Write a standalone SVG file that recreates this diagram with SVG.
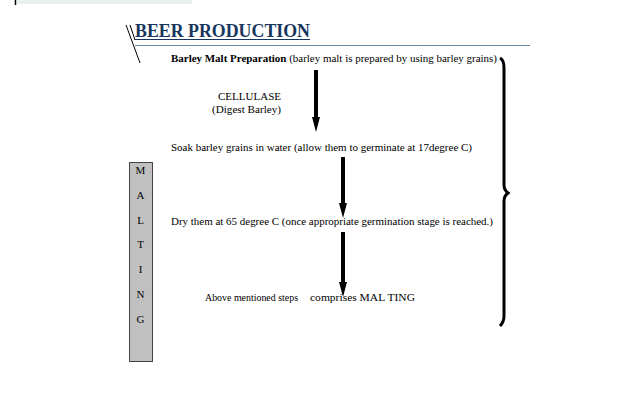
<svg xmlns="http://www.w3.org/2000/svg" width="640" height="400" viewBox="0 0 640 400">
<defs>
<style>
text{font-family:"Liberation Serif","Times New Roman",serif;fill:#000;font-size:10px}
.title{font-size:18px;font-weight:bold;fill:#17365D}
.b{font-weight:bold}
.conn{stroke:#000;stroke-width:4;fill:none}
.head{fill:#000}
.lt{text-anchor:middle;font-size:11px}
</style>
</defs>
<rect width="640" height="400" fill="#fff"/>
<rect x="17" y="0" width="175" height="4" fill="#eaf0f0"/>
<line x1="15.5" y1="0" x2="15.5" y2="5" stroke="#000" stroke-width="1.5"/>
<g id="title">
<text class="title" x="135" y="37" textLength="175" lengthAdjust="spacingAndGlyphs">BEER PRODUCTION</text>
<line x1="135" y1="39.5" x2="310" y2="39.5" stroke="#17365D" stroke-width="1"/>
<line x1="135" y1="45.5" x2="530" y2="45.5" stroke="#6f8aa6" stroke-width="1"/>
<line x1="126" y1="25" x2="140" y2="63" stroke="#000" stroke-width="1"/>
<line x1="130" y1="25" x2="135" y2="40" stroke="#000" stroke-width="1"/>
</g>
<g id="barley-malt">
<text x="171" y="62" textLength="326" lengthAdjust="spacingAndGlyphs"><tspan class="b">Barley Malt Preparation</tspan> (barley malt is prepared by using barley grains)</text>
</g>
<g id="cellulase">
<text x="218" y="100" textLength="63" lengthAdjust="spacingAndGlyphs">CELLULASE</text>
<text x="212" y="113" textLength="69" lengthAdjust="spacingAndGlyphs">(Digest Barley)</text>
</g>
<g id="soak">
<text x="171" y="151" textLength="301" lengthAdjust="spacingAndGlyphs">Soak barley grains in water (allow them to germinate at 17degree C)</text>
</g>
<g id="dry">
<text x="171" y="225" textLength="322" lengthAdjust="spacingAndGlyphs">Dry them at 65 degree C (once appropriate germination stage is reached.)</text>
</g>
<g id="malting-summary">
<text x="205" y="301" textLength="93" lengthAdjust="spacingAndGlyphs">Above mentioned steps</text>
<text x="310" y="301" textLength="105" lengthAdjust="spacingAndGlyphs">comprises MAL TING</text>
</g>
<g id="malting-box">
<rect x="129.5" y="162.5" width="23" height="199" fill="#c0c0c0" stroke="#444" stroke-width="1"/>
<text class="lt" x="140.5" y="174">M</text>
<text class="lt" x="140.5" y="199">A</text>
<text class="lt" x="140.5" y="224">L</text>
<text class="lt" x="140.5" y="248">T</text>
<text class="lt" x="140.5" y="273">I</text>
<text class="lt" x="140.5" y="298">N</text>
<text class="lt" x="140.5" y="323">G</text>
</g>
<g id="connectors">
<line class="conn" x1="316" y1="70" x2="316" y2="121"/>
<polygon class="head" points="312,117 320,117 316,132"/>
<line class="conn" x1="343" y1="157" x2="343" y2="207"/>
<polygon class="head" points="339,203 347,203 343,218"/>
<line class="conn" x1="343" y1="232" x2="343" y2="286"/>
<polygon class="head" points="339,282 347,282 343,297"/>
<path d="M500,58 Q504,60 504,68 L504,185 Q504,190 508,193 Q504,196 504,201 L504,316 Q504,322 500,326" stroke="#000" stroke-width="3" fill="none"/>
</g>
</svg>
